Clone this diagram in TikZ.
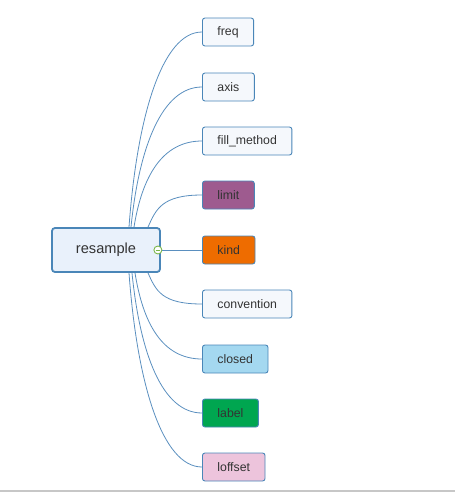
\documentclass[tikz,border=0pt]{standalone}
\usepackage{fontspec}
\setmainfont{Liberation Sans}
\definecolor{boxblue}{HTML}{4A86B8}
\definecolor{linkblue}{HTML}{5A8FBF}
\definecolor{leaffill}{HTML}{F5F8FC}
\definecolor{rootfill}{HTML}{E9F1FB}
\definecolor{textgray}{HTML}{333333}
\definecolor{limitfill}{HTML}{9E5B8F}
\definecolor{kindfill}{HTML}{EE6C00}
\definecolor{closedfill}{HTML}{A4D8F0}
\definecolor{labelfill}{HTML}{00A650}
\definecolor{loffsetfill}{HTML}{EDC4DC}
\definecolor{foldgreen}{HTML}{7AB648}
\begin{document}
\begin{tikzpicture}[x=1pt, y=-1pt, every node/.style={text=textgray}, >=stealth,
    leaf/.style={draw=boxblue, fill=leaffill, rounded corners=2.5pt, line width=0.9pt,
        minimum height=28pt, inner xsep=15pt, anchor=west, font=\fontsize{12.3}{14}\selectfont},
    root/.style={draw=boxblue, fill=rootfill, rounded corners=3pt, line width=1.8pt,
        minimum width=108pt, minimum height=44pt, font=\fontsize{14.6}{17}\selectfont},
    link/.style={draw=linkblue, line width=0.8pt},
    fold/.style={circle, draw=foldgreen, fill=white, line width=0.9pt, minimum size=8pt, inner sep=0pt}]
    \useasboundingbox (0,0) rectangle (455,493);

    \node[root] (resample) at (106,250) {resample};

    \node[leaf] (freq) at (202,32) {freq};
    \node[leaf] (axis) at (202,87) {axis};
    \node[leaf] (fillmethod) at (202,141) {fill\_method};
    \node[leaf, fill=limitfill] (limit) at (202,195) {limit};
    \node[leaf, fill=kindfill] (kind) at (202,250) {kind};
    \node[leaf] (convention) at (202,304) {convention};
    \node[leaf, fill=closedfill] (closed) at (202,359) {closed};
    \node[leaf, fill=labelfill] (label) at (202,413) {label};
    \node[leaf, fill=loffsetfill] (loffset) at (202,467) {loffset};

    % branches above and below the root
    \foreach \leaf/\dx/\up in {freq/23/110, axis/25/80, fillmethod/28/50, limit/42/18}
        \draw[link] ([xshift=\dx pt]resample.north) .. controls +(8,-\up) and +(-40,0) .. (\leaf.west);
    \foreach \leaf/\dx/\down in {convention/42/18, closed/29/50, label/26/80, loffset/23/110}
        \draw[link] ([xshift=\dx pt]resample.south) .. controls +(8,\down) and +(-40,0) .. (\leaf.west);

    \node[fold] (fold) at ([xshift=-3pt]resample.east) {};
    \draw[foldgreen, line width=0.9pt] ([xshift=-2.2pt]fold.center) -- ([xshift=2.2pt]fold.center);
    \draw[link] (fold) -- (kind);

    \draw[black!22, line width=1.2pt] (0,491) -- (455,491);
\end{tikzpicture}
\end{document}
